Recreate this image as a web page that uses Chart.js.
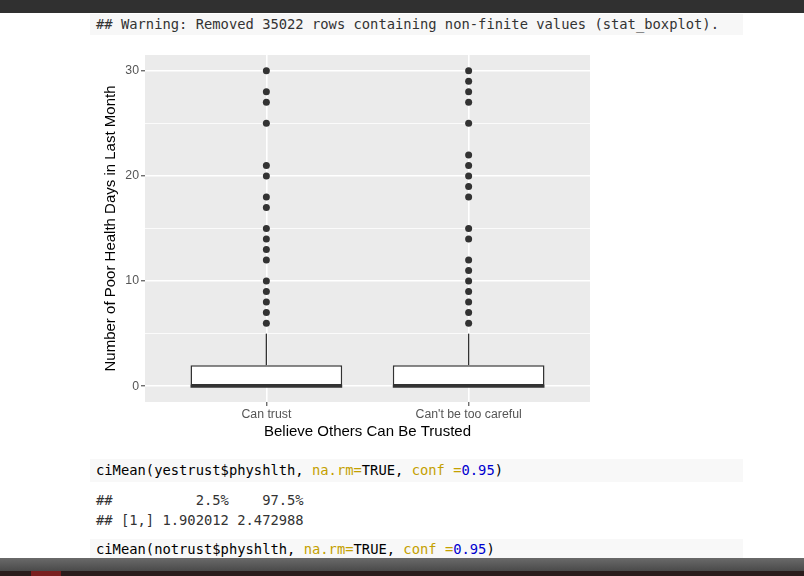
<!DOCTYPE html>
<html>
<head>
<meta charset="utf-8">
<script src="https://cdn.jsdelivr.net/npm/chart.js@4"></script>
<style>
  body { margin: 0; background: #fff; width: 804px; height: 576px; overflow: hidden; position: relative; }
  .mono { position: absolute; font-family: "DejaVu Sans Mono", monospace; font-size: 13.8px; color: #333; white-space: pre; }
  .bar-top { position: absolute; left: 0; top: 0; width: 804px; height: 13px; background: #303030; }
  .bar-bottom { position: absolute; left: 0; top: 558px; width: 804px; height: 13px; background: linear-gradient(#6a6a6a, #4a4a4a); }
  .bar-bottom2 { position: absolute; left: 0; top: 571px; width: 804px; height: 5px; background: #2a1c1c; }
  .bar-red { position: absolute; left: 31px; top: 571px; width: 30px; height: 5px; background: #7a1f1f; }
  .arg { color: #c4a000; }
  .num { color: #0000cf; }
  #wrap { position: absolute; left: 0; top: 0; width: 804px; height: 576px; }
</style>
</head>
<body>
<div class="bar-top"></div>
<div class="mono" style="left:90px;top:14px;width:647px;height:21px;line-height:21px;padding-left:6px;background:#f7f7f7;">## Warning: Removed 35022 rows containing non-finite values (stat_boxplot).</div>

<div class="mono" style="left:90px;top:459px;width:647px;height:23px;line-height:23px;padding-left:6px;background:#f8f8f8;color:#000;">ciMean(yestrust$physhlth, <span class="arg">na.rm=</span>TRUE, <span class="arg">conf =</span><span class="num">0.95</span>)</div>
<div class="mono" style="left:96px;top:490px;height:20px;line-height:20px;">##          2.5%    97.5%</div>
<div class="mono" style="left:96px;top:510px;height:20px;line-height:20px;">## [1,] 1.902012 2.472988</div>
<div class="mono" style="left:90px;top:539px;width:647px;height:22px;line-height:21px;padding-left:6px;background:#f8f8f8;color:#000;">ciMean(notrust$physhlth, <span class="arg">na.rm=</span>TRUE, <span class="arg">conf =</span><span class="num">0.95</span>)</div>
<div class="bar-bottom"></div>
<div class="bar-bottom2"></div>
<div class="bar-red"></div>

<div id="wrap"><canvas id="box-chart" width="804" height="576"></canvas></div>

<script>
// Boxplot data
const categories = ['Can trust', "Can't be too careful"];
const boxLower = [0, 0];
const boxUpper = [2, 2];
const medians = [0, 0];
const whiskerTop = [5, 5];
const outliersTrust = [30, 28, 27, 25, 21, 20, 18, 17, 15, 14, 13, 12, 10, 9, 8, 7, 6];
const outliersCareful = [30, 29, 28, 27, 25, 22, 21, 20, 19, 18, 15, 14, 12, 11, 10, 9, 8, 7, 6];
const yMajorTicks = [0, 10, 20, 30];
const yMinorTicks = [5, 15, 25];

const boxWidth = 0.75;
const ink = '#333333';

// Grey ggplot panel behind the grid
const panelBg = {
    id: 'panelBg',
    beforeDraw(chart) {
        const { ctx, chartArea: a } = chart;
        ctx.save();
        ctx.fillStyle = '#ebebeb';
        ctx.fillRect(a.left, a.top, a.right - a.left, a.bottom - a.top);
        ctx.restore();
    }
};

function init() {
    const outliers = [outliersTrust, outliersCareful];
    const pointData = [];
    outliers.forEach((vals, i) => vals.forEach(v => pointData.push({ x: i + 1, y: v })));

    const datasets = [];

    datasets.push({
        type: 'scatter',
        data: pointData,
        pointRadius: 3.5,
        pointBackgroundColor: ink,
        pointBorderWidth: 0,
        order: 0
    });

    categories.forEach((c, i) => {
        // median
        datasets.push({
            type: 'line',
            data: [{ x: i + 1 - boxWidth / 2, y: medians[i] }, { x: i + 1 + boxWidth / 2, y: medians[i] }],
            borderColor: ink,
            borderWidth: 3,
            pointRadius: 0,
            order: 1
        });
        // upper whisker
        datasets.push({
            type: 'line',
            data: [{ x: i + 1, y: boxUpper[i] }, { x: i + 1, y: whiskerTop[i] }],
            borderColor: ink,
            borderWidth: 1.3,
            pointRadius: 0,
            order: 2
        });
    });

    datasets.push({
        type: 'bar',
        data: categories.map((c, i) => ({ x: i + 1, y: [boxLower[i], boxUpper[i]] })),
        backgroundColor: '#ffffff',
        borderColor: ink,
        borderWidth: 1.5,
        borderSkipped: false,
        categoryPercentage: 1,
        barPercentage: boxWidth,
        order: 3
    });

    new Chart(document.getElementById('box-chart'), {
        type: 'scatter',
        data: { datasets },
        plugins: [panelBg],
        options: {
            responsive: false,
            animation: false,
            devicePixelRatio: 1,
            layout: { padding: { left: 98, right: 214, top: 55, bottom: 131 } },
            plugins: { legend: { display: false }, tooltip: { enabled: false } },
            scales: {
                x: {
                    type: 'linear',
                    min: 0.4,
                    max: 2.6,
                    offset: false,
                    afterBuildTicks: axis => { axis.ticks = categories.map((c, i) => ({ value: i + 1 })); },
                    afterFit: axis => { axis.height = 43; },
                    ticks: {
                        callback: (v, i) => categories[i],
                        font: { family: 'Liberation Sans', size: 12.3 },
                        color: '#555555',
                        padding: 1,
                        maxRotation: 0
                    },
                    grid: { offset: false, color: '#ffffff', lineWidth: 1.6, tickColor: ink, tickLength: 4, tickWidth: 1 },
                    border: { display: false },
                    title: {
                        display: true,
                        text: 'Believe Others Can Be Trusted',
                        color: '#000000',
                        font: { family: 'Liberation Sans', size: 15 },
                        padding: { top: 0, bottom: 4 }
                    }
                },
                y: {
                    type: 'linear',
                    min: -1.5,
                    max: 31.5,
                    afterBuildTicks: axis => {
                        axis.ticks = yMajorTicks.concat(yMinorTicks).sort((a, b) => a - b).map(v => ({ value: v }));
                    },
                    afterFit: axis => { axis.width = 47; },
                    ticks: {
                        callback: v => yMajorTicks.includes(v) ? v : '',
                        font: { family: 'Liberation Sans', size: 12.3 },
                        color: '#555555',
                        padding: 2
                    },
                    grid: {
                        color: '#ffffff',
                        lineWidth: ctx => yMajorTicks.includes(ctx.tick.value) ? 1.6 : 0.8,
                        tickColor: ctx => yMajorTicks.includes(ctx.tick.value) ? ink : 'rgba(0,0,0,0)',
                        tickLength: 4,
                        tickWidth: 1
                    },
                    border: { display: false },
                    title: {
                        display: true,
                        text: 'Number of Poor Health Days in Last Month',
                        color: '#000000',
                        font: { family: 'Liberation Sans', size: 15 },
                        padding: { top: 4, bottom: 0 }
                    }
                }
            }
        }
    });
}

document.addEventListener('DOMContentLoaded', init);
</script>
</body>
</html>
